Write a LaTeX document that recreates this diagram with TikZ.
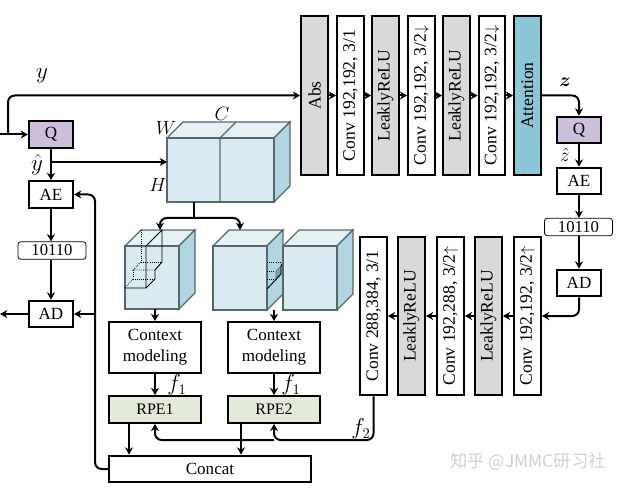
\documentclass[tikz,border=0pt]{standalone}
\usepackage{amsmath}
\usepackage{fontspec}
\setmainfont{Liberation Serif}
\newfontfamily\cjk{Noto Sans CJK SC}
\usetikzlibrary{arrows.meta}
\tikzset{
	arr/.style = {line width = 1.5pt, -{Stealth[length=5.5pt,width=6pt]}},
	wire/.style = {line width = 1.5pt},
	box/.style = {draw, line width = 1.5pt, fill = white, inner sep = 0pt, font = \fontsize{12.8}{14}\selectfont, minimum width = 33pt, minimum height = 20pt},
	bigbox/.style = {box, minimum width = 69pt, minimum height = 38pt, align = center, font = \fontsize{12.8}{16}\selectfont},
	rpebox/.style = {box, fill = rpegreen, minimum width = 69pt, minimum height = 20pt, font = \fontsize{12}{14}\selectfont},
	bits/.style = {draw, line width = 0.6pt, rounded corners = 2pt, fill = white, inner sep = 0pt, font = \fontsize{12.5}{14}\selectfont, minimum width = 51pt, minimum height = 13pt},
	layer/.style = {box, rotate = 90, minimum width = 119pt, minimum height = 20pt, font = \fontsize{13.2}{14}\selectfont},
	front/.style = {draw = cubeedge, line width = 0.9pt, fill = cubefront},
	top/.style = {draw = cubeedge, line width = 0.9pt, fill = cubetop},
	side/.style = {draw = cubeedge, line width = 0.9pt, fill = cubeside},
	inner/.style = {line width = 0.6pt, densely dotted},
	innersolid/.style = {line width = 0.7pt},
	lbl/.style = {inner sep = 0pt, font = \fontsize{18}{20}\selectfont}
}
\definecolor{rpegreen}{HTML}{E3EAD9}
\definecolor{quant}{HTML}{CBBFDC}
\definecolor{greyl}{HTML}{D9D9D9}
\definecolor{attn}{HTML}{8CC7D8}
\definecolor{cubefront}{HTML}{D9EAF1}
\definecolor{cubetop}{HTML}{E6F1F4}
\definecolor{cubeside}{HTML}{B1D5E2}
\definecolor{cubeedge}{HTML}{56686E}
\definecolor{mark}{HTML}{D0D0D0}
\newcommand{\upa}{$\uparrow$}
\newcommand{\dna}{$\downarrow$}
\begin{document}
\begin{tikzpicture}[x = 0.75pt, y = -0.75pt]
	\useasboundingbox (0,0) rectangle (621,488);
	
	% top row
	\node[layer, fill = greyl] at (314.5,95.5) (abs) {Abs};
	\node[layer] at (350.5,95.5) (conva) {Conv 192,192, 3/1};
	\node[layer, fill = greyl] at (385.5,95.5) (relua) {LeaklyReLU};
	\node[layer] at (421.5,95.5) (convb) {Conv 192,192, 3/2\dna};
	\node[layer, fill = greyl] at (456.5,95.5) (relub) {LeaklyReLU};
	\node[layer] at (492,95.5) (convc) {Conv 192,192, 3/2\dna};
	\node[layer, fill = attn] at (527.5,95.5) (attention) {Attention};
	
	% right column
	\node[box, fill = quant] at (579,130) (qz) {Q};
	\node[box] at (579,181) (aez) {AE};
	\node[bits] at (578.5,227) (bitsz) {10110};
	\node[box] at (579,283) (adz) {AD};
	
	% bottom row
	\node[layer] at (527.5,316) (convd) {Conv 192,192, 3/2\upa};
	\node[layer, fill = greyl] at (488.5,316) (reluc) {LeaklyReLU};
	\node[layer] at (450.5,316) (conve) {Conv 192,288, 3/2\upa};
	\node[layer, fill = greyl] at (411.5,316) (relud) {LeaklyReLU};
	\node[layer] at (373.5,316) (convf) {Conv 288,384, 3/1};
	
	% left column
	\node[box, fill = quant] at (51,134.5) (qy) {Q};
	\node[box] at (51,194.5) (aey) {AE};
	\node[bits] at (52,250.5) (bitsy) {10110};
	\node[box] at (51,314) (ady) {AD};
	
	% context and entropy blocks
	\node[bigbox] at (155,347.5) (cma) {Context\\modeling};
	\node[bigbox] at (274,347.5) (cmb) {Context\\modeling};
	\node[rpebox] at (155,409.5) (rpea) {RPE1};
	\node[rpebox] at (274,409.5) (rpeb) {RPE2};
	\node[box, minimum width = 151pt] at (210,469) (concat) {Concat};
	
	% big cube
	\draw[top] (167,138) -- (183,122) -- (290,122) -- (274,138) -- cycle;
	\draw[side] (274,138) -- (290,122) -- (290,186) -- (274,202) -- cycle;
	\draw[front] (167,138) rectangle (274,202);
	\draw[cubeedge, line width = 0.9pt] (220,202) -- (220,138) -- (236,122);
	\coordinate (cubein) at (167,162);
	\coordinate (cubeout) at (194,202);
	
	% first small cube
	\draw[top] (125,246) -- (141,230) -- (195,230) -- (179,246) -- cycle;
	\draw[side] (179,246) -- (195,230) -- (195,293) -- (179,309) -- cycle;
	\draw[front] (125,246) rectangle (179,309);
	\draw[inner] (141,230) -- (141,262) -- (162,262);
	\draw[inner] (141,262) -- (133,270) -- (155,270);
	\draw[inner] (133,270) -- (133,279) -- (155,279);
	\draw[inner] (133,279) -- (125,288);
	\draw[innersolid] (125,288) -- (146,288) -- (146,246) -- (162,230) -- (162,262) -- (155,270) -- (155,279) -- (146,288);
	\coordinate (cubea) at (160,230);
	\coordinate (cubeaout) at (155,309);
	
	% second small cube pair
	\draw[top] (213,246) -- (229,230) -- (283,230) -- (267,246) -- cycle;
	\draw[side] (267,246) -- (283,230) -- (283,294) -- (267,310) -- cycle;
	\draw[front] (213,246) rectangle (267,310);
	\draw[inner] (267,262) -- (283,262);
	\draw[inner] (267,271) -- (276,271);
	\draw[inner] (267,279) -- (276,279);
	\draw[draw = cubeedge, line width = 0.5pt, fill = attn!85!black] (276,271) -- (281,266) -- (281,274) -- (276,279) -- cycle;
	\draw[innersolid] (283,262) -- (281,266) -- (281,274) -- (267,289);
	\draw[top] (283,246) -- (299,230) -- (353,230) -- (337,246) -- cycle;
	\draw[side] (337,246) -- (353,230) -- (353,294) -- (337,310) -- cycle;
	\draw[front] (283,246) rectangle (337,310);
	\coordinate (cubeb) at (240,230);
	\coordinate (cubebout) at (274,310);
	
	% free wire ends
	\coordinate (inl) at (0,134.5);
	\coordinate (split) at (8,134.5);
	\coordinate (outl) at (0,314);
	\coordinate (yhat) at (51,162);
	\coordinate (fork) at (194,218);
	\coordinate (fbranch) at (95,314);
	\coordinate (fbus) at (241,440);
	\coordinate (rpeout) at (129,440);
	
	% arrows
	\draw[arr] (inl) -- (qy.west);
	\draw[arr, rounded corners = 5pt] (split) |- (abs.north);
	\draw[arr] (abs.south) -- (conva.north);
	\draw[arr] (conva.south) -- (relua.north);
	\draw[arr] (relua.south) -- (convb.north);
	\draw[arr] (convb.south) -- (relub.north);
	\draw[arr] (relub.south) -- (convc.north);
	\draw[arr] (convc.south) -- (attention.north);
	\draw[arr, rounded corners = 5pt] (attention.south) -| (qz.north);
	\draw[arr] (qz.south) -- (aez.north);
	\draw[arr] (aez.south) -- (bitsz.north -| aez.south);
	\draw[arr] (bitsz.south -| adz.north) -- (adz.north);
	\draw[arr, rounded corners = 5pt] (adz.south) |- (convd.south);
	\draw[arr] (convd.north) -- (reluc.south);
	\draw[arr] (reluc.north) -- (conve.south);
	\draw[arr] (conve.north) -- (relud.south);
	\draw[arr] (relud.north) -- (convf.south);
	
	\draw[arr] (qy.south) -- (aey.north);
	\draw[arr] (yhat) -- (cubein);
	\draw[arr] (aey.south) -- (bitsy.north -| aey.south);
	\draw[arr] (bitsy.south -| ady.north) -- (ady.north);
	\draw[arr] (ady.west) -- (outl);
	\draw[arr, rounded corners = 5pt] (concat.west) -| (fbranch) |- (aey.east);
	\draw[arr] (fbranch) -- (ady.east);
	
	\draw[wire] (cubeout) -- (fork);
	\draw[arr, rounded corners = 5pt] (fork) -| (cubea);
	\draw[arr, rounded corners = 5pt] (fork) -| (cubeb);
	\draw[arr] (cubeaout) -- (cma.north);
	\draw[arr] (cubebout) -- (cmb.north);
	\draw[arr] (cma.south) -- (rpea.north);
	\draw[arr] (cmb.south) -- (rpeb.north);
	\draw[arr] (rpea.south -| rpeout) -- (concat.north -| rpeout);
	\draw[arr] (rpeb.south -| fbus) -- (concat.north -| fbus);
	\draw[arr, rounded corners = 5pt] (convf.west) |- (rpeb.south |- fbus) -- (rpeb.south);
	\draw[arr, rounded corners = 5pt] (rpeb.south |- fbus) -- (rpea.south |- fbus) -- (rpea.south);
	
	% labels
	\node[lbl, font = \fontsize{19}{22}\selectfont] at (42,76) (ylab) {$y$};
	\node[lbl, font = \fontsize{15}{18}\selectfont] at (565,82) (zlab) {$\boldsymbol{z}$};
	\node[lbl] at (37,165) (yhatlab) {$\hat{y}$};
	\node[lbl, font = \fontsize{15}{17}\selectfont] at (565,155) (zhatlab) {$\hat{z}$};
	\node[lbl, font = \fontsize{14}{16}\selectfont] at (222,114) (clab) {$C$};
	\node[lbl, font = \fontsize{14}{16}\selectfont] at (166,128) (wlab) {$W$};
	\node[lbl, font = \fontsize{14}{16}\selectfont] at (158,185) (hlab) {$H$};
	\node[lbl, font = \fontsize{16}{18}\selectfont] at (177,385) (fa) {$f_1$};
	\node[lbl, font = \fontsize{16}{18}\selectfont] at (291,385) (fb) {$f_1$};
	\node[lbl, font = \fontsize{16}{18}\selectfont] at (361,429) (fc) {$f_2$};
	\node[lbl, text = mark, font = \fontsize{13}{15}\selectfont\cjk] at (528,462) (watermark) {知乎 @JMMC研习社};
	
\end{tikzpicture}
\end{document}
